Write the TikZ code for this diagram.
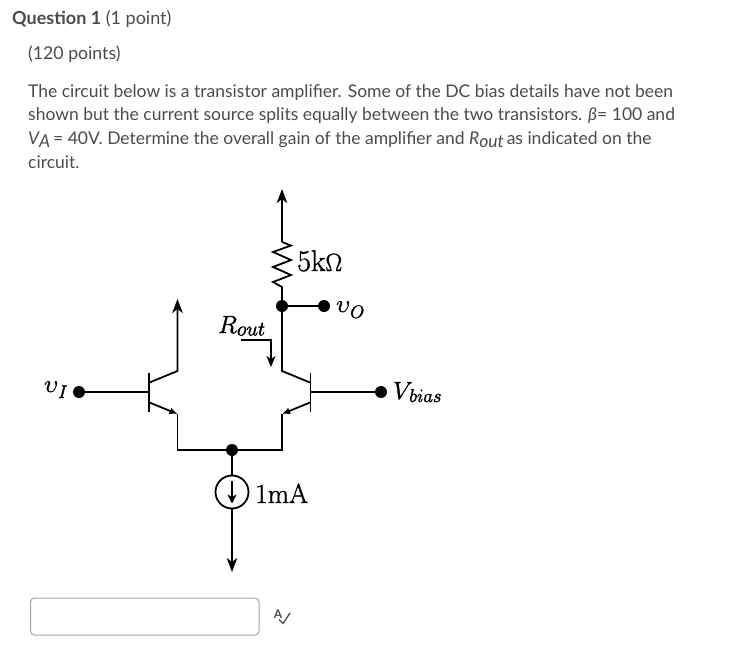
\documentclass[tikz,border=0pt]{standalone}
\usepackage{fontspec}
\newfontfamily\lato{Lato}
\usetikzlibrary{arrows.meta}
\definecolor{txt}{HTML}{494C4E}
\newcommand{\heavy}[1]{\special{pdf:literal direct 2 Tr 0.35 w}#1\special{pdf:literal direct 0 Tr}}
% #1 drop, #2 scale, #3 math
\newcommand{\lowsub}[3]{\raisebox{-#1}{\scalebox{#2}{$\scriptstyle #3$}}}
\tikzset{
  x=1pt,y=-1pt,
  wire/.style={line width=1.8pt,black,line join=miter},
  bar/.style={line width=1.8pt,black},
  supply/.style={wire,-{Stealth[length=14pt,width=10.5pt,inset=4pt]}},
  emit/.style={wire,-{Latex[length=8pt,width=7pt]}},
  dot/.style={circle,fill=black,inner sep=0pt,minimum size=12pt},
  para/.style={anchor=base west,inner sep=0pt,text=txt,font=\lato\fontsize{17.5}{20}\selectfont},
  cmlabel/.style={inner sep=0pt,text=black,anchor=base west},
}
\begin{document}
\begin{tikzpicture}
\useasboundingbox (0,0) rectangle (738,664);
\fill[white] (0,0) rectangle (738,664);
% question text
\node[para,font=\lato\fontsize{18}{20}\selectfont] (qhead) at (12,24) {\textbf{Question 1} (1 point)};
\node[para,font=\lato\fontsize{17.7}{20}\selectfont] (qpts) at (28,59) {(120 points)};
\node[para] (l1) at (28,97) {The circuit below is a transistor amplifier. Some of the DC bias details have not been};
\node[para] (l2) at (28,120) {shown but the current source splits equally between the two transistors. {\itshape β}= 100 and};
\node[para] (l3) at (28,144) {{\itshape V\raisebox{-0.22em}{A}}\,= 40V. Determine the overall gain of the amplifier and {\itshape R\raisebox{-0.22em}{out}}\,as indicated on the};
\node[para] (l4) at (28,168) {circuit.};
% named points
\coordinate (lbase) at (149,392);
\coordinate (lbt) at (149,373);
\coordinate (lbb) at (149,411.5);
\coordinate (lc0) at (149.5,382.5);
\coordinate (lc) at (177.5,371);
\coordinate (le0) at (149.5,402.5);
\coordinate (le) at (177.5,414);
\coordinate (ltop) at (177.5,299);
\coordinate (lcorner) at (177.5,450);
\coordinate (rbase) at (310.5,392);
\coordinate (rbt) at (310.5,373);
\coordinate (rbb) at (310.5,411.5);
\coordinate (rc0) at (310,382.5);
\coordinate (rc) at (282,371);
\coordinate (re0) at (310,402.5);
\coordinate (re) at (282,414);
\coordinate (rcorner) at (282,450);
\coordinate (rtop) at (282,189);
\coordinate (restop) at (282,242);
\coordinate (resbot) at (282,287);
\node[dot] (vi) at (79,392) {};
\node[dot] (vb) at (381,392) {};
\node[dot] (vo) at (324,306) {};
\node[dot] (jc) at (282,306) {};
\node[dot] (je) at (232,450) {};
\node[circle,draw=black,line width=1.8pt,inner sep=0pt,minimum size=33pt] (cs) at (232,492) {};
\coordinate (gnd) at (232,572);
\coordinate (csa) at (232,481);
\coordinate (csb) at (232,503.5);
\coordinate (ra) at (240.5,340);
\coordinate (rb) at (271,340);
\coordinate (rd) at (271,367);
% left transistor
\draw[wire] (vi) -- (lbase);
\draw[bar] (lbt) -- (lbb);
\draw[supply] (lc0) -- (lc) -- (ltop);
\draw[emit] (le0) -- (le);
\draw[wire] (le) -- (lcorner) -- (je);
% right transistor
\draw[wire] (vb) -- (rbase);
\draw[bar] (rbt) -- (rbb);
\draw[wire] (rc0) -- (rc) -- (jc);
\draw[emit] (re0) -- (re);
\draw[wire] (re) -- (rcorner) -- (je);
% resistor and supply
\draw[wire] (jc) -- (resbot) -- ++(-9,-5) -- ++(18,-7) -- ++(-18,-8) -- ++(18,-7) -- ++(-18,-8) -- ++(18,-6.5) -- (restop);
\draw[supply] (restop) -- (rtop);
\draw[wire] (jc) -- (vo);
% current source
\draw[wire] (je) -- (cs);
\draw[supply] (cs) -- (gnd);
\draw[wire,-{Stealth[length=9pt,width=9pt,inset=2.5pt]}] (csa) -- (csb);
% Rout arrow
\draw[wire,line width=1.4pt,-{Stealth[length=11pt,width=9pt,inset=3pt]}] (ra) -- (rb) -- (rd);
% labels
\node[cmlabel,font=\fontsize{30}{32}\selectfont] (lr) at (297,271) {\heavy{5k$\Omega$}};
\node[cmlabel,font=\fontsize{27.5}{30}\selectfont] (lma) at (255,503) {\heavy{1mA}};
\node[cmlabel,font=\fontsize{27}{30}\selectfont] (lvo) at (336,312) {\heavy{$\upsilon$\lowsub{6pt}{1.05}{O}}};
\node[cmlabel,font=\fontsize{27}{30}\selectfont] (lvi) at (44,392) {\heavy{$\upsilon$\lowsub{6pt}{1.05}{I}}};
\node[cmlabel,font=\fontsize{26}{30}\selectfont] (lrout) at (218,333) {\heavy{$R$\lowsub{2.5pt}{1.18}{out}}};
\node[cmlabel,font=\fontsize{26}{30}\selectfont] (lvb) at (393,399) {\heavy{$V$\hspace{-3.5pt}\lowsub{3pt}{1.08}{bias}}};
% answer box and icon
\draw[draw=black!35,fill=white,line width=1pt,rounded corners=4pt] (30.5,598) rectangle (259,635);
\node[inner sep=0pt,text=txt,font=\lato\bfseries\fontsize{12}{12}\selectfont] (ica) at (278,614) {A};
\draw[txt,line width=1.3pt] (279,619.5) -- (283,623.5) -- (290,613);
\end{tikzpicture}
\end{document}
